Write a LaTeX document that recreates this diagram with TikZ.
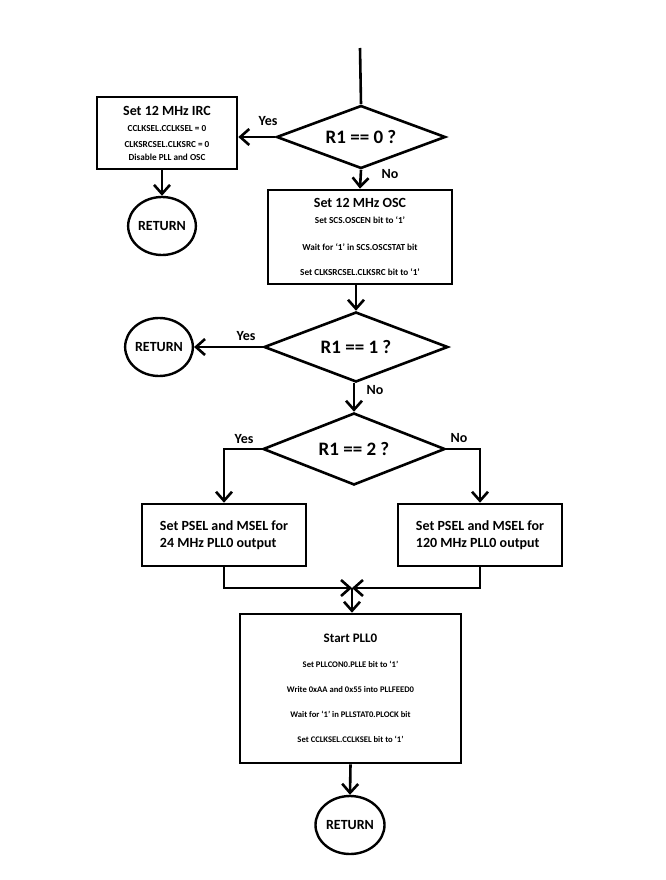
\documentclass[tikz,border=0pt]{standalone}
\usepackage{fontspec}
\setmainfont{Carlito}
\usetikzlibrary{shapes.geometric,arrows.meta,positioning}

\tikzset{
  box/.style={draw, line width=2.6pt, inner sep=0pt, align=center, font=\bfseries\fontsize{9.2}{16}\selectfont},
  decision/.style={draw, diamond, line width=2.6pt, inner sep=0pt, aspect=2.6, font=\bfseries\fontsize{19}{22}\selectfont},
  terminal/.style={draw, ellipse, line width=2.4pt, inner sep=0pt, minimum width=66pt, minimum height=58pt, font=\bfseries\fontsize{14}{16}\selectfont},
  flow/.style={line width=2.6pt, -{Straight Barb[length=9pt,width=16pt]}},
  lbl/.style={font=\bfseries\fontsize{14}{16}\selectfont},
}

\begin{document}
\begin{tikzpicture}[x=1pt,y=-1pt]
	\fill[white] (0,0) rectangle (666,880);
	\useasboundingbox (0,0) rectangle (666,880);

	% first test and the IRC branch
	\coordinate (start) at (360,48);
	\node[decision, minimum width=169pt, minimum height=63pt] (d1) at (361,137) {R1 == 0 ?};
	\node[box, minimum width=140pt, minimum height=72pt] (irc) at (167,133)
		{{\fontsize{14}{16}\selectfont Set 12 MHz IRC}\\ CCLKSEL.CCLKSEL = 0\\ CLKSRCSEL.CLKSRC = 0\\[-3pt] Disable PLL and OSC};
	\node[terminal] (r1) at (162,226) {RETURN};
	\node[lbl] (yes1) at (268,121) {Yes};
	\node[lbl] (no1) at (390,174) {No};

	% oscillator
	\node[box, minimum width=184pt, minimum height=94pt, font=\bfseries\fontsize{9.2}{26}\selectfont] (osc) at (360,237)
		{{\fontsize{14}{16}\selectfont Set 12 MHz OSC}\\[-10pt] Set SCS.OSCEN bit to ‘1’\\[1pt] Wait for ‘1’ in SCS.OSCSTAT bit\\[-1pt] Set CLKSRCSEL.CLKSRC bit to ‘1’};

	% second test
	\node[decision, minimum width=184pt, minimum height=70pt] (d2) at (356,347) {R1 == 1 ?};
	\node[terminal] (r2) at (159,347) {RETURN};
	\node[lbl] (yes2) at (246,336) {Yes};
	\node[lbl] (no2) at (375,390) {No};

	% third test and PLL settings
	\node[decision, minimum width=182pt, minimum height=72pt] (d3) at (354,449) {R1 == 2 ?};
	\node[lbl] (yes3) at (244,439) {Yes};
	\node[lbl] (no3) at (459,438) {No};
	\node[box, align=left, minimum width=164pt, minimum height=62pt, font=\bfseries\fontsize{14}{17}\selectfont] (psel24) at (224,535)
		{Set PSEL and MSEL for\\24 MHz PLL0 output};
	\node[box, align=left, minimum width=164pt, minimum height=62pt, font=\bfseries\fontsize{14}{17}\selectfont] (psel120) at (480,535)
		{Set PSEL and MSEL for\\120 MHz PLL0 output};

	% start PLL0
	\coordinate (join) at (352,588);
	\node[box, minimum width=221pt, minimum height=149pt, font=\bfseries\fontsize{8.6}{25}\selectfont] (pll) at (350.5,688.5)
		{{\fontsize{13}{15}\selectfont Start PLL0}\\ Set PLLCON0.PLLE bit to ‘1’\\ Write 0xAA and 0x55 into PLLFEED0\\ Wait for ‘1’ in PLLSTAT0.PLOCK bit\\ Set CCLKSEL.CCLKSEL bit to ‘1’};
	\node[terminal, minimum width=69pt] (r3) at (350,825) {RETURN};

	% connectors
	\draw[line width=2.6pt] (start) -- (d1.north);
	\draw[flow] (d1.west) -- (d1.west -| irc.east);
	\draw[flow] (r1 |- irc.south) -- (r1.north);
	\draw[flow] (d1.south) -- (osc.north);
	\draw[flow] (d2 |- osc.south) -- (d2.north);
	\draw[flow] (d2.west) -- (r2.east);
	\draw[flow] (d3 |- d2.south) -- (d3.north);
	\draw[flow] (d3.west) -| (psel24.north);
	\draw[flow] (d3.east) -| (psel120.north);
	\draw[flow] (psel24.south) |- (join);
	\draw[flow] (psel120.south) |- (join);
	\draw[flow] (join) -- (join |- pll.north);
	\draw[flow] (pll.south) -- (r3.north);
\end{tikzpicture}
\end{document}
